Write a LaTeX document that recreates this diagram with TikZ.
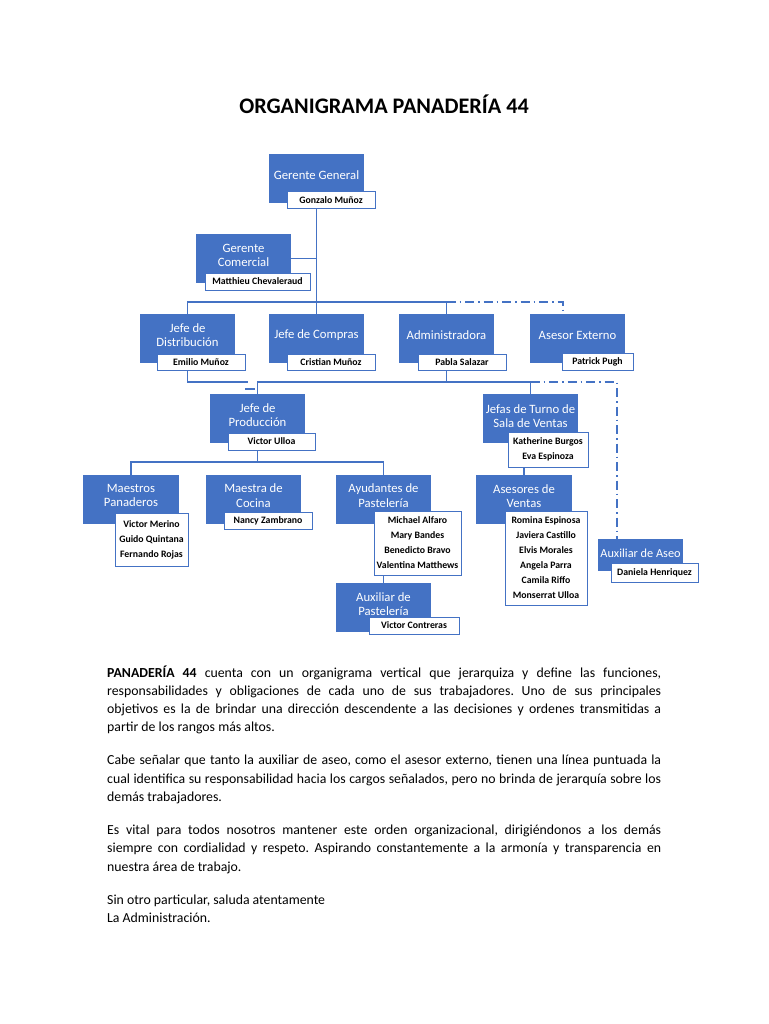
\documentclass[tikz,border=0pt]{standalone}
\usepackage{fontspec}
\setmainfont{Carlito}
\usetikzlibrary{calc}
\definecolor{obl}{HTML}{4472C4}
\pgfdeclarelayer{bg}
\pgfsetlayers{bg,main}
\frenchspacing
\begin{document}
\begin{tikzpicture}[x=1pt,y=-1pt,
  bluebox/.style={draw=none, fill=obl, inner sep=0pt, outer sep=0pt, anchor=north west, minimum width=95pt, minimum height=49pt},
  boxlabel/.style={text=white, font=\fontsize{12.7}{14.5}\selectfont, align=center, inner sep=0pt},
  namebox/.style={draw=obl, line width=1pt, fill=white, inner sep=0pt, outer sep=0pt, anchor=north west, font=\fontsize{9.8}{15}\selectfont\bfseries, align=center},
  conn/.style={draw=obl, line width=1.3pt},
  dotconn/.style={draw=obl, line width=1.2pt, dash pattern=on 9pt off 4pt on 1.5pt off 4pt},
]
\useasboundingbox (0,0) rectangle (768,1024);

% title
\node[anchor=base, inner sep=0pt, font=\fontsize{22.2}{26}\selectfont\bfseries] (title) at (384,114) {ORGANIGRAMA PANADERÍA 44};

% Gerente General
\node[bluebox] (gg) at (269,154) {};
\node[boxlabel] (ggl) at ([yshift=-21pt]gg.north) {Gerente General};
\node[namebox, minimum width=88pt, minimum height=17pt] (ggn) at (287,192) {Gonzalo Muñoz};

% Gerente Comercial
\node[bluebox] (gc) at (196,234) {};
\node[boxlabel] (gcl) at ([yshift=-21.5pt]gc.north) {Gerente\\Comercial};
\node[namebox, minimum width=105pt, minimum height=17pt] (gcn) at (205,273) {Matthieu Chevaleraud};

% Row 2
\node[bluebox] (jd) at (140,314) {};
\node[boxlabel] (jdl) at ([yshift=-21pt]jd.north) {Jefe de\\Distribución};
\node[namebox, minimum width=88pt, minimum height=16pt] (jdn) at (157,354) {Emilio Muñoz};

\node[bluebox] (jc) at (269,314) {};
\node[boxlabel] (jcl) at ([yshift=-21pt]jc.north) {Jefe de Compras};
\node[namebox, minimum width=88pt, minimum height=16pt] (jcn) at (287,354) {Cristian Muñoz};

\node[bluebox] (adm) at (399,314) {};
\node[boxlabel] (adml) at ([yshift=-21pt]adm.north) {Administradora};
\node[namebox, minimum width=88pt, minimum height=16pt] (admn) at (418,354) {Pabla Salazar};

\node[bluebox] (ae) at (530,314) {};
\node[boxlabel] (ael) at ([yshift=-21pt]ae.north) {Asesor Externo};
\node[namebox, minimum width=71pt, minimum height=17pt] (aen) at (562,353) {Patrick Pugh};

% Row 3
\node[bluebox] (jp) at (210,394) {};
\node[boxlabel] (jpl) at ([yshift=-21pt]jp.north) {Jefe de\\Producción};
\node[namebox, minimum width=87pt, minimum height=17pt] (jpn) at (228,433) {Victor Ulloa};

\node[bluebox] (jt) at (483,394) {};
\node[boxlabel] (jtl) at ([yshift=-22pt]jt.north) {Jefas de Turno de\\Sala de Ventas};
\node[namebox, minimum width=80pt, minimum height=35pt] (jtn) at (508,432) {Katherine Burgos\\Eva Espinoza};

% Row 4
\node[bluebox, minimum width=96pt] (mp) at (83,475) {};
\node[boxlabel] (mpl) at ([yshift=-20.5pt]mp.north) {Maestros\\Panaderos};
\node[namebox, minimum width=73pt, minimum height=53pt] (mpn) at (115,513) {Victor Merino\\Guido Quintana\\Fernando Rojas};

\node[bluebox] (mc) at (206,475) {};
\node[boxlabel] (mcl) at ([yshift=-20.5pt]mc.north) {Maestra de\\Cocina};
\node[namebox, minimum width=88pt, minimum height=17pt] (mcn) at (224,512) {Nancy Zambrano};

\node[bluebox] (ap) at (336,475) {};
\node[boxlabel] (apl) at ([yshift=-20.5pt]ap.north) {Ayudantes de\\Pastelería};
\node[namebox, minimum width=87pt, minimum height=64pt] (apn) at (374,511) {Michael Alfaro\\Mary Bandes\\Benedicto Bravo\\Valentina Matthews};

\node[bluebox] (xp) at (336,583) {};
\node[boxlabel] (xpl) at ([yshift=-21pt]xp.north) {Auxiliar de\\Pastelería};
\node[namebox, minimum width=90pt, minimum height=17pt] (xpn) at (369,617) {Victor Contreras};

\node[bluebox, minimum width=96pt] (av) at (476,475) {};
\node[boxlabel] (avl) at ([yshift=-21pt]av.north) {Asesores de\\Ventas};
\node[namebox, minimum width=82pt, minimum height=94pt] (avn) at (505,511) {Romina Espinosa\\Javiera Castillo\\Elvis Morales\\Angela Parra\\Camila Riffo\\Monserrat Ulloa};

\node[bluebox, minimum width=85pt, minimum height=32pt] (aa) at (598,539) {};
\node[boxlabel, font=\fontsize{12.3}{14.5}\selectfont] (aal) at ([yshift=-14pt]aa.north) {Auxiliar de Aseo};
\node[namebox, minimum width=87pt, minimum height=19pt] (aan) at (611,563) {Daniela Henriquez};

% connectors
\coordinate (r1) at (0,302);
\coordinate (r2) at (0,382);
\coordinate (r3) at (0,462);
\coordinate (aeTop) at ([xshift=33pt]ae.north west);
\coordinate (aaTop) at ([xshift=19pt]aa.north west);
\coordinate (jdEnd) at (248,382);
\coordinate (stubA) at (245,389);
\coordinate (stubB) at (255,389);

\begin{pgfonlayer}{bg}
\fill[white] (0,0) rectangle (768,1024);
\draw[conn] (gg.south) -- (gg.south |- r1);
\draw[conn] (gc.east) -- (gc.east -| gg.south);
\draw[conn] (jd.north) -- (jd.north |- r1) -- (adm.north |- r1) -- (adm.north);
\draw[conn] (jc.north) -- (jc.north |- r1);
\draw[dotconn] (adm.north |- r1) -- (aeTop |- r1) -- (aeTop);
\draw[conn] (adm.south) -- (adm.south |- r2);
\draw[conn] (jp.north) -- (jp.north |- r2) -- (jt.north |- r2) -- (jt.north);
\draw[dotconn] (jt.north |- r2) -- (aaTop |- r2) -- (aaTop);
\draw[conn] (jd.south) -- (jd.south |- r2) -- (jdEnd);
\draw[conn] (stubA) -- (stubB);
\draw[conn] (av.north) -- (av.north |- jtn.south);
\draw[conn] (jp.south) -- (jp.south |- r3);
\draw[conn] (mp.north) -- (mp.north |- r3) -- (ap.north |- r3) -- (ap.north);
\draw[conn] (xp.north) -- (xp.north |- apn.south);
\end{pgfonlayer}

% body text
\node[anchor=base west, inner sep=0pt] (body) at (107,677) {\begin{minipage}[t]{554pt}\fontsize{13.8}{18.3}\selectfont\setlength{\parskip}{14.7pt}\setlength{\parindent}{0pt}\hyphenpenalty=10000\emergencystretch=3em\frenchspacing
{\bfseries PANADERÍA 44} cuenta con un organigrama vertical que jerarquiza y define las funciones,\linebreak
responsabilidades y obligaciones de cada uno de sus trabajadores. Uno de sus principales\linebreak
objetivos es la de brindar una dirección descendente a las decisiones y ordenes transmitidas a\linebreak
partir de los rangos más altos.

Cabe señalar que tanto la auxiliar de aseo, como el asesor externo, tienen una línea puntuada la\linebreak
cual identifica su responsabilidad hacia los cargos señalados, pero no brinda de jerarquía sobre los\linebreak
demás trabajadores.

Es vital para todos nosotros mantener este orden organizacional, dirigiéndonos a los demás\linebreak
siempre con cordialidad y respeto. Aspirando constantemente a la armonía y transparencia en\linebreak
nuestra área de trabajo.

Sin otro particular, saluda atentamente\\
La Administración.
\end{minipage}};
\end{tikzpicture}
\end{document}
